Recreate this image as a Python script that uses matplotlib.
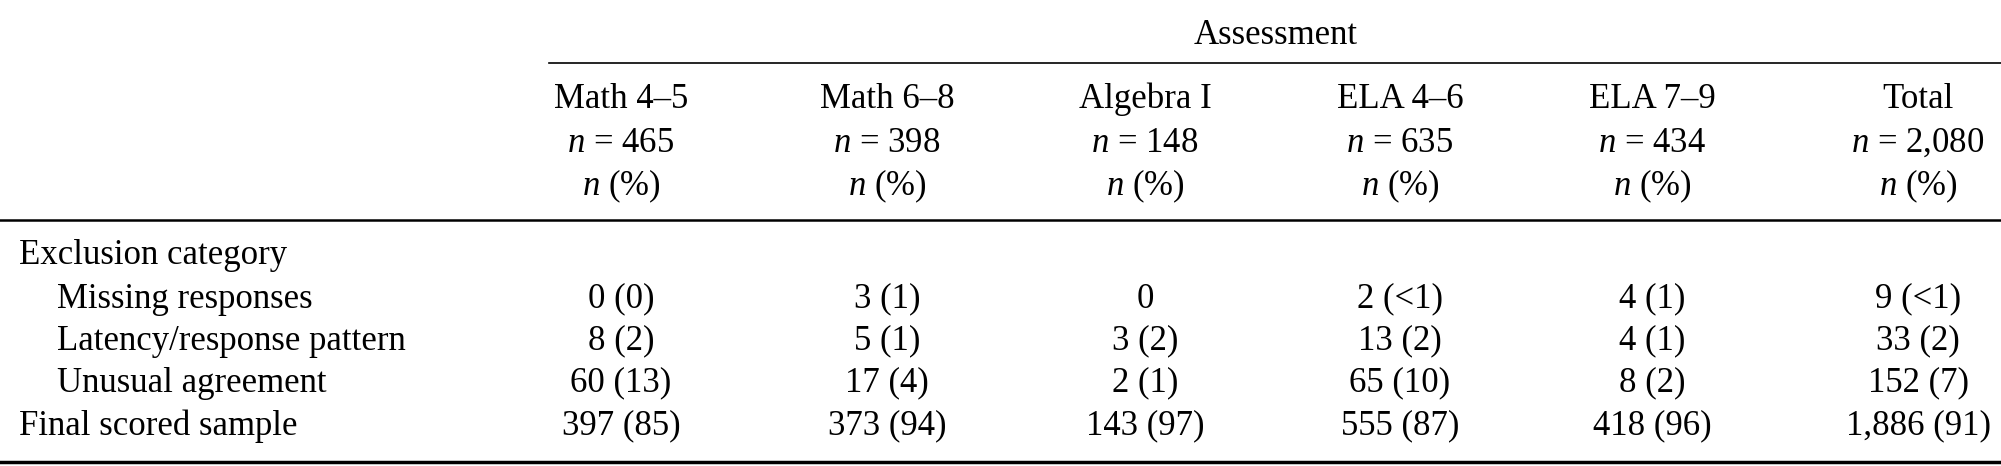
import matplotlib.pyplot as plt

columns = ["Math 4\u20135", "Math 6\u20138", "Algebra I", "ELA 4\u20136", "ELA 7\u20139", "Total"]
sizes = ["465", "398", "148", "635", "434", "2,080"]
row_labels = ["Exclusion category", "Missing responses", "Latency/response pattern",
              "Unusual agreement", "Final scored sample"]
indented = [False, True, True, True, False]
cells = [
    ["", "", "", "", "", ""],
    ["0 (0)", "3 (1)", "0", "2 (<1)", "4 (1)", "9 (<1)"],
    ["8 (2)", "5 (1)", "3 (2)", "13 (2)", "4 (1)", "33 (2)"],
    ["60 (13)", "17 (4)", "2 (1)", "65 (10)", "8 (2)", "152 (7)"],
    ["397 (85)", "373 (94)", "143 (97)", "555 (87)", "418 (96)", "1,886 (91)"],
]

plt.rcParams['font.family'] = ['Liberation Serif', 'DejaVu Serif']
plt.rcParams['mathtext.fontset'] = 'custom'
plt.rcParams['mathtext.it'] = 'Liberation Serif:italic'
plt.rcParams['mathtext.rm'] = 'Liberation Serif'

W, H = 2001, 466
fig = plt.figure(figsize=(W / 100, H / 100), dpi=100)
ax = fig.add_axes([0, 0, 1, 1])
ax.set_xlim(0, W)
ax.set_ylim(H, 0)
ax.axis("off")

fs = 25
col_x = [621, 887, 1145, 1400, 1652, 1918]

ax.text(1276, 35, "Assessment", ha="center", va="center", fontsize=fs)
ax.plot([549, W], [63, 63], color="black", lw=1.2)
for x, name, n in zip(col_x, columns, sizes):
    ax.text(x, 99, name, ha="center", va="center", fontsize=fs)
    ax.text(x, 143, r"$\it{n}$ = " + n, ha="center", va="center", fontsize=fs)
    ax.text(x, 186, r"$\it{n}$ (%)", ha="center", va="center", fontsize=fs)
ax.plot([0, W], [220, 220], color="black", lw=1.8)

row_y = [256, 299, 341, 383, 426]
for y, label, ind, vals in zip(row_y, row_labels, indented, cells):
    ax.text(57 if ind else 19, y, label, ha="left", va="center", fontsize=fs)
    for x, v in zip(col_x, vals):
        ax.text(x, y, v, ha="center", va="center", fontsize=fs)
ax.plot([0, W], [462, 462], color="black", lw=2.5)

fig.savefig("out.png", dpi=100)
